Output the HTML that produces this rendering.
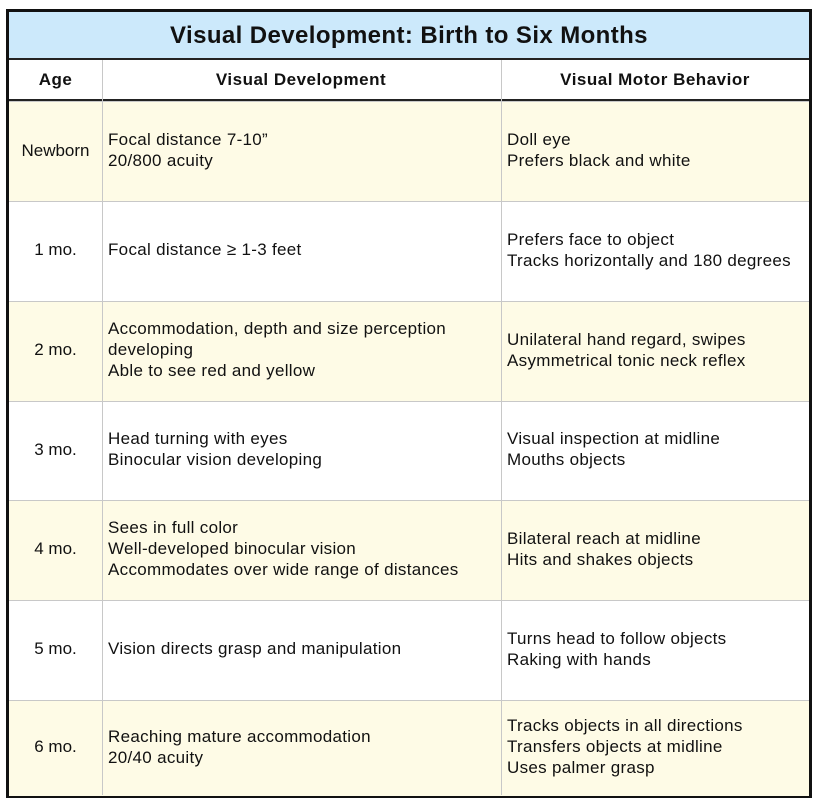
<!DOCTYPE html>
<html><head><meta charset="utf-8"><style>
body{margin:0;width:822px;height:806px;background:#fff;font-family:"Liberation Sans",Arial,sans-serif;color:#111;position:relative;overflow:hidden}
.frame{position:absolute;left:6px;top:9px;width:800px;height:783px;border:3px solid #111}
.title{position:absolute;left:0;top:0;width:800px;height:46px;background:#cce9fb;border-bottom:2px solid #222;font-weight:bold;font-size:24px;letter-spacing:0.4px;text-align:center;line-height:47px}
.hd{position:absolute;top:48px;height:39px;font-weight:bold;font-size:17px;letter-spacing:0.5px;line-height:40px;text-align:center}
.hline{position:absolute;left:0;width:800px;height:2px;background:#222;top:87px}
.row{position:absolute;left:0;width:800px;border-top:1px solid #c8c8c8}
.y{background:#fefbe6}
.c{position:absolute;top:-2px;height:100%;display:flex;align-items:center;font-size:17px;letter-spacing:0.3px;line-height:21px}
.age{left:0;width:93px;justify-content:center;letter-spacing:0}
.vd{left:99px;width:395px}
.vm{left:498px;width:302px}
.vl{position:absolute;top:48px;bottom:0;width:1px;background:#c8c8c8}
</style></head><body>
<div class="frame">
<div class="title">Visual Development: Birth to Six Months</div>
<div class="hd" style="left:0;width:93px">Age</div>
<div class="hd" style="left:93px;width:398px">Visual Development</div>
<div class="hd" style="left:492px;width:308px">Visual Motor Behavior</div>
<div class="hline"></div>
<div class="row y" style="top:89px;height:100px"><div class="c age">Newborn</div><div class="c vd">Focal distance 7-10”<br>20/800 acuity</div><div class="c vm">Doll eye<br>Prefers black and white</div></div>
<div class="row" style="top:189px;height:99px"><div class="c age">1 mo.</div><div class="c vd">Focal distance ≥ 1-3 feet</div><div class="c vm">Prefers face to object<br>Tracks horizontally and 180 degrees</div></div>
<div class="row y" style="top:289px;height:99px"><div class="c age">2 mo.</div><div class="c vd">Accommodation, depth and size perception<br>developing<br>Able to see red and yellow</div><div class="c vm">Unilateral hand regard, swipes<br>Asymmetrical tonic neck reflex</div></div>
<div class="row" style="top:389px;height:98px"><div class="c age">3 mo.</div><div class="c vd">Head turning with eyes<br>Binocular vision developing</div><div class="c vm">Visual inspection at midline<br>Mouths objects</div></div>
<div class="row y" style="top:488px;height:99px"><div class="c age">4 mo.</div><div class="c vd">Sees in full color<br>Well-developed binocular vision<br>Accommodates over wide range of distances</div><div class="c vm">Bilateral reach at midline<br>Hits and shakes objects</div></div>
<div class="row" style="top:588px;height:99px"><div class="c age">5 mo.</div><div class="c vd">Vision directs grasp and manipulation</div><div class="c vm">Turns head to follow objects<br>Raking with hands</div></div>
<div class="row y" style="top:688px;height:95px"><div class="c age">6 mo.</div><div class="c vd">Reaching mature accommodation<br>20/40 acuity</div><div class="c vm">Tracks objects in all directions<br>Transfers objects at midline<br>Uses palmer grasp</div></div>
<div class="vl" style="left:93px"></div>
<div class="vl" style="left:492px"></div>
</div>
</body></html>
